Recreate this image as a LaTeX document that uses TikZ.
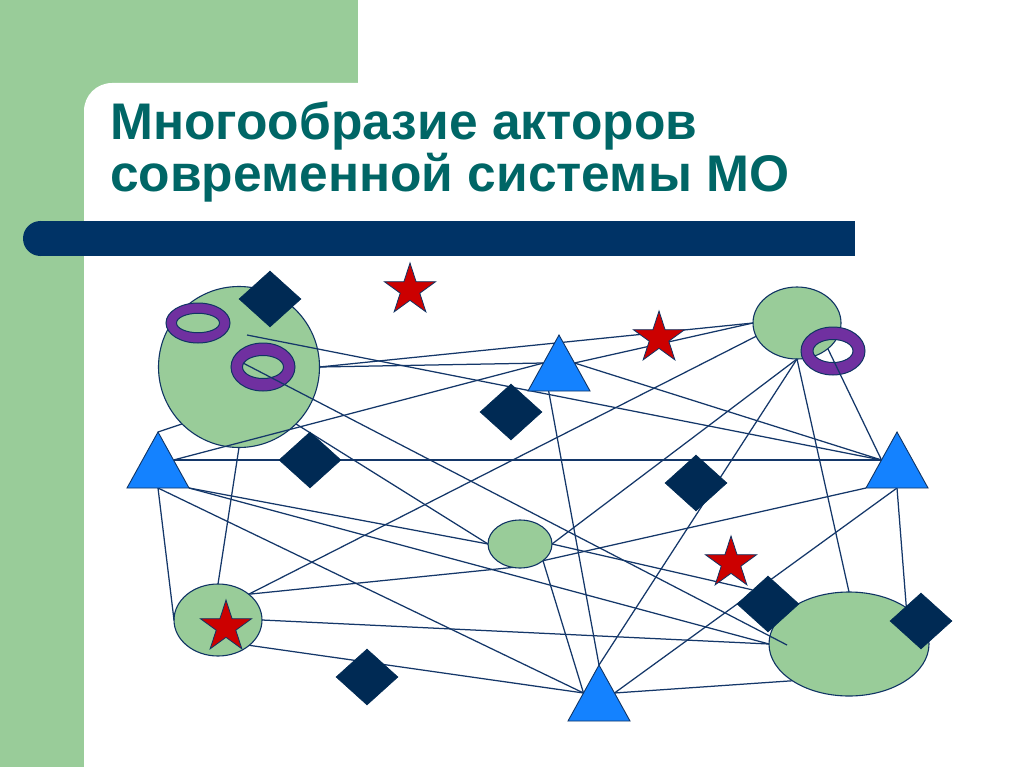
\documentclass[tikz,border=0pt]{standalone}
\usepackage{fontspec}
\setmainfont{Liberation Sans}
\usetikzlibrary{shapes.geometric}
\definecolor{bggreen}{RGB}{153,204,153}
\definecolor{titlec}{RGB}{0,102,102}
\definecolor{barc}{RGB}{0,51,102}
\definecolor{navyc}{RGB}{16,52,100}
\definecolor{linec}{RGB}{20,55,105}
\definecolor{diac}{RGB}{0,42,84}
\definecolor{tricol}{RGB}{20,130,255}
\definecolor{starred}{RGB}{204,0,0}
\definecolor{ringc}{RGB}{112,48,160}
\newcommand\deftri[3]{%
  \coordinate (#1-a) at (#2,#3);
  \coordinate (#1-l) at (#2-15.5,#3+28);
  \coordinate (#1-r) at (#2+15.5,#3+28);
  \coordinate (#1-bl) at (#2-31,#3+56);
  \coordinate (#1-bm) at (#2,#3+56);
  \coordinate (#1-br) at (#2+31,#3+56);}
\newcommand\drawtri[1]{\filldraw[trish] (#1-a) -- (#1-br) -- (#1-bl) -- cycle;}
\begin{document}
\begin{tikzpicture}[x=1pt,y=-1pt,
  blob/.style={ellipse, draw=navyc, line width=1.1pt, fill=bggreen, inner sep=0pt, outer sep=0pt},
  dia/.style={diamond, fill=diac, draw=diac, line width=0.6pt, minimum width=62pt, minimum height=56pt, inner sep=0pt},
  starsh/.style={star, star points=5, star point ratio=2.618, fill=starred, draw=navyc, line width=0.8pt, minimum size=54pt, inner sep=0pt},
  trish/.style={fill=tricol, draw=navyc, line width=0.9pt, line join=miter},
  ring/.style={fill=ringc, draw=navyc, line width=1pt, even odd rule},
  link/.style={draw=linec, line width=1.25pt},
  titletext/.style={anchor=base west, inner sep=0pt, text=titlec, font=\fontsize{51.5}{53}\selectfont\bfseries}
]
\useasboundingbox (0,0) rectangle (1024,767);
\clip (0,0) rectangle (1024,767);
% background
\fill[bggreen] (0,0) rectangle (358,767);
\fill[white, rounded corners=28pt] (84,83) rectangle (1100,900);
\fill[barc] (40,221) rectangle (855,256);
\fill[barc] (40.5,238.5) circle (17.5pt);
% title
\node[titletext] (t1) at (110,140) {Многообразие акторов};
\node[titletext] (t2) at (110,192) {современной системы МО};
% ellipses
\node[blob, minimum width=161pt, minimum height=161pt] (C1) at (239,367) {};
\node[blob, minimum width=88pt, minimum height=72pt] (E2) at (797,323) {};
\node[blob, minimum width=64pt, minimum height=48pt] (E3) at (520,544) {};
\node[blob, minimum width=88pt, minimum height=72pt] (E4) at (218,620) {};
\node[blob, minimum width=160pt, minimum height=104pt] (E5) at (849,644) {};
% rings
\coordinate (R1) at (198,323);
\coordinate (R2) at (263,367);
\coordinate (R3) at (833,351);
\filldraw[ring] (R1) ellipse [x radius=32pt, y radius=20pt] (R1) ellipse [x radius=21.5pt, y radius=9.7pt];
\filldraw[ring] (R2) ellipse [x radius=32pt, y radius=24pt] (R2) ellipse [x radius=20.5pt, y radius=11.5pt];
\filldraw[ring] (R3) ellipse [x radius=32pt, y radius=24pt] (R3) ellipse [x radius=20pt, y radius=11.5pt];
% triangles (connection points)
\deftri{T1}{158}{432}
\deftri{T2}{559}{335}
\deftri{T3}{897}{432}
\deftri{T4}{599}{665}
% free line ends
\coordinate (C1in) at (247,335);
\coordinate (R2in) at (243,363);
\coordinate (R3in) at (828,349);
\coordinate (E5in) at (787,645);
\coordinate (D7in) at (907,616);
% connectors
\draw[link] (C1in) -- (T3-l);
\draw[link] (C1.east) -- (E2.west);
\draw[link] (C1.east) -- (T2-l);
\draw[link] (T1-r) -- (T2-l);
\draw[link] (T1-a) -- (C1.225);
\draw[link] (C1.south) -- (E4.north);
\draw[link] (C1.315) -- (E3.west);
\draw[link] (R2in) -- (E5in);
\draw[link] (T1-r) -- (T3-l);
\draw[link] (T1-bm) -- (E4.west);
\draw[link] (T1-bm) -- (T4-l);
\draw[link] (T1-br) -- (E3.west);
\draw[link] (T1-br) -- (E5.west);
\draw[link] (E4.40) -- (E2.198);
\draw[link] (E4.40) -- (E3.253);
\draw[link] (E4.east) -- (E5.west);
\draw[link] (E4.321) -- (T4-l);
\draw[link] (T2-l) -- (T4-a);
\draw[link] (T2-r) -- (E2.west);
\draw[link] (T2-r) -- (T3-l);
\draw[link] (E2.south) -- (E3.east);
\draw[link] (E2.south) -- (T4-a);
\draw[link] (E2.south) -- (E5.north);
\draw[link] (R3in) -- (T3-l);
\draw[link] (E3.324) -- (T3-bl);
\draw[link] (E3.324) -- (T4-l);
\draw[link] (T4-r) -- (T3-bm);
\draw[link] (T4-r) -- (E5.213);
\draw[link] (T3-bm) -- (D7in);
% triangles
\drawtri{T1}
\drawtri{T2}
\drawtri{T3}
\drawtri{T4}
% diamonds
\node[dia] (D1) at (270,299) {};
\node[dia] (D2) at (310,460) {};
\node[dia] (D3) at (511,412) {};
\node[dia] (D4) at (696,483) {};
\node[dia] (D5) at (367,677) {};
\node[dia] (D6) at (768,604) {};
\node[dia] (D7) at (921,621) {};
\draw[link] (E3.east) -- (D6.north west);
% stars
\node[starsh] (S1) at (410,290) {};
\node[starsh] (S2) at (659,338) {};
\node[starsh] (S3) at (226,627) {};
\node[starsh] (S4) at (731,563) {};
\end{tikzpicture}
\end{document}
